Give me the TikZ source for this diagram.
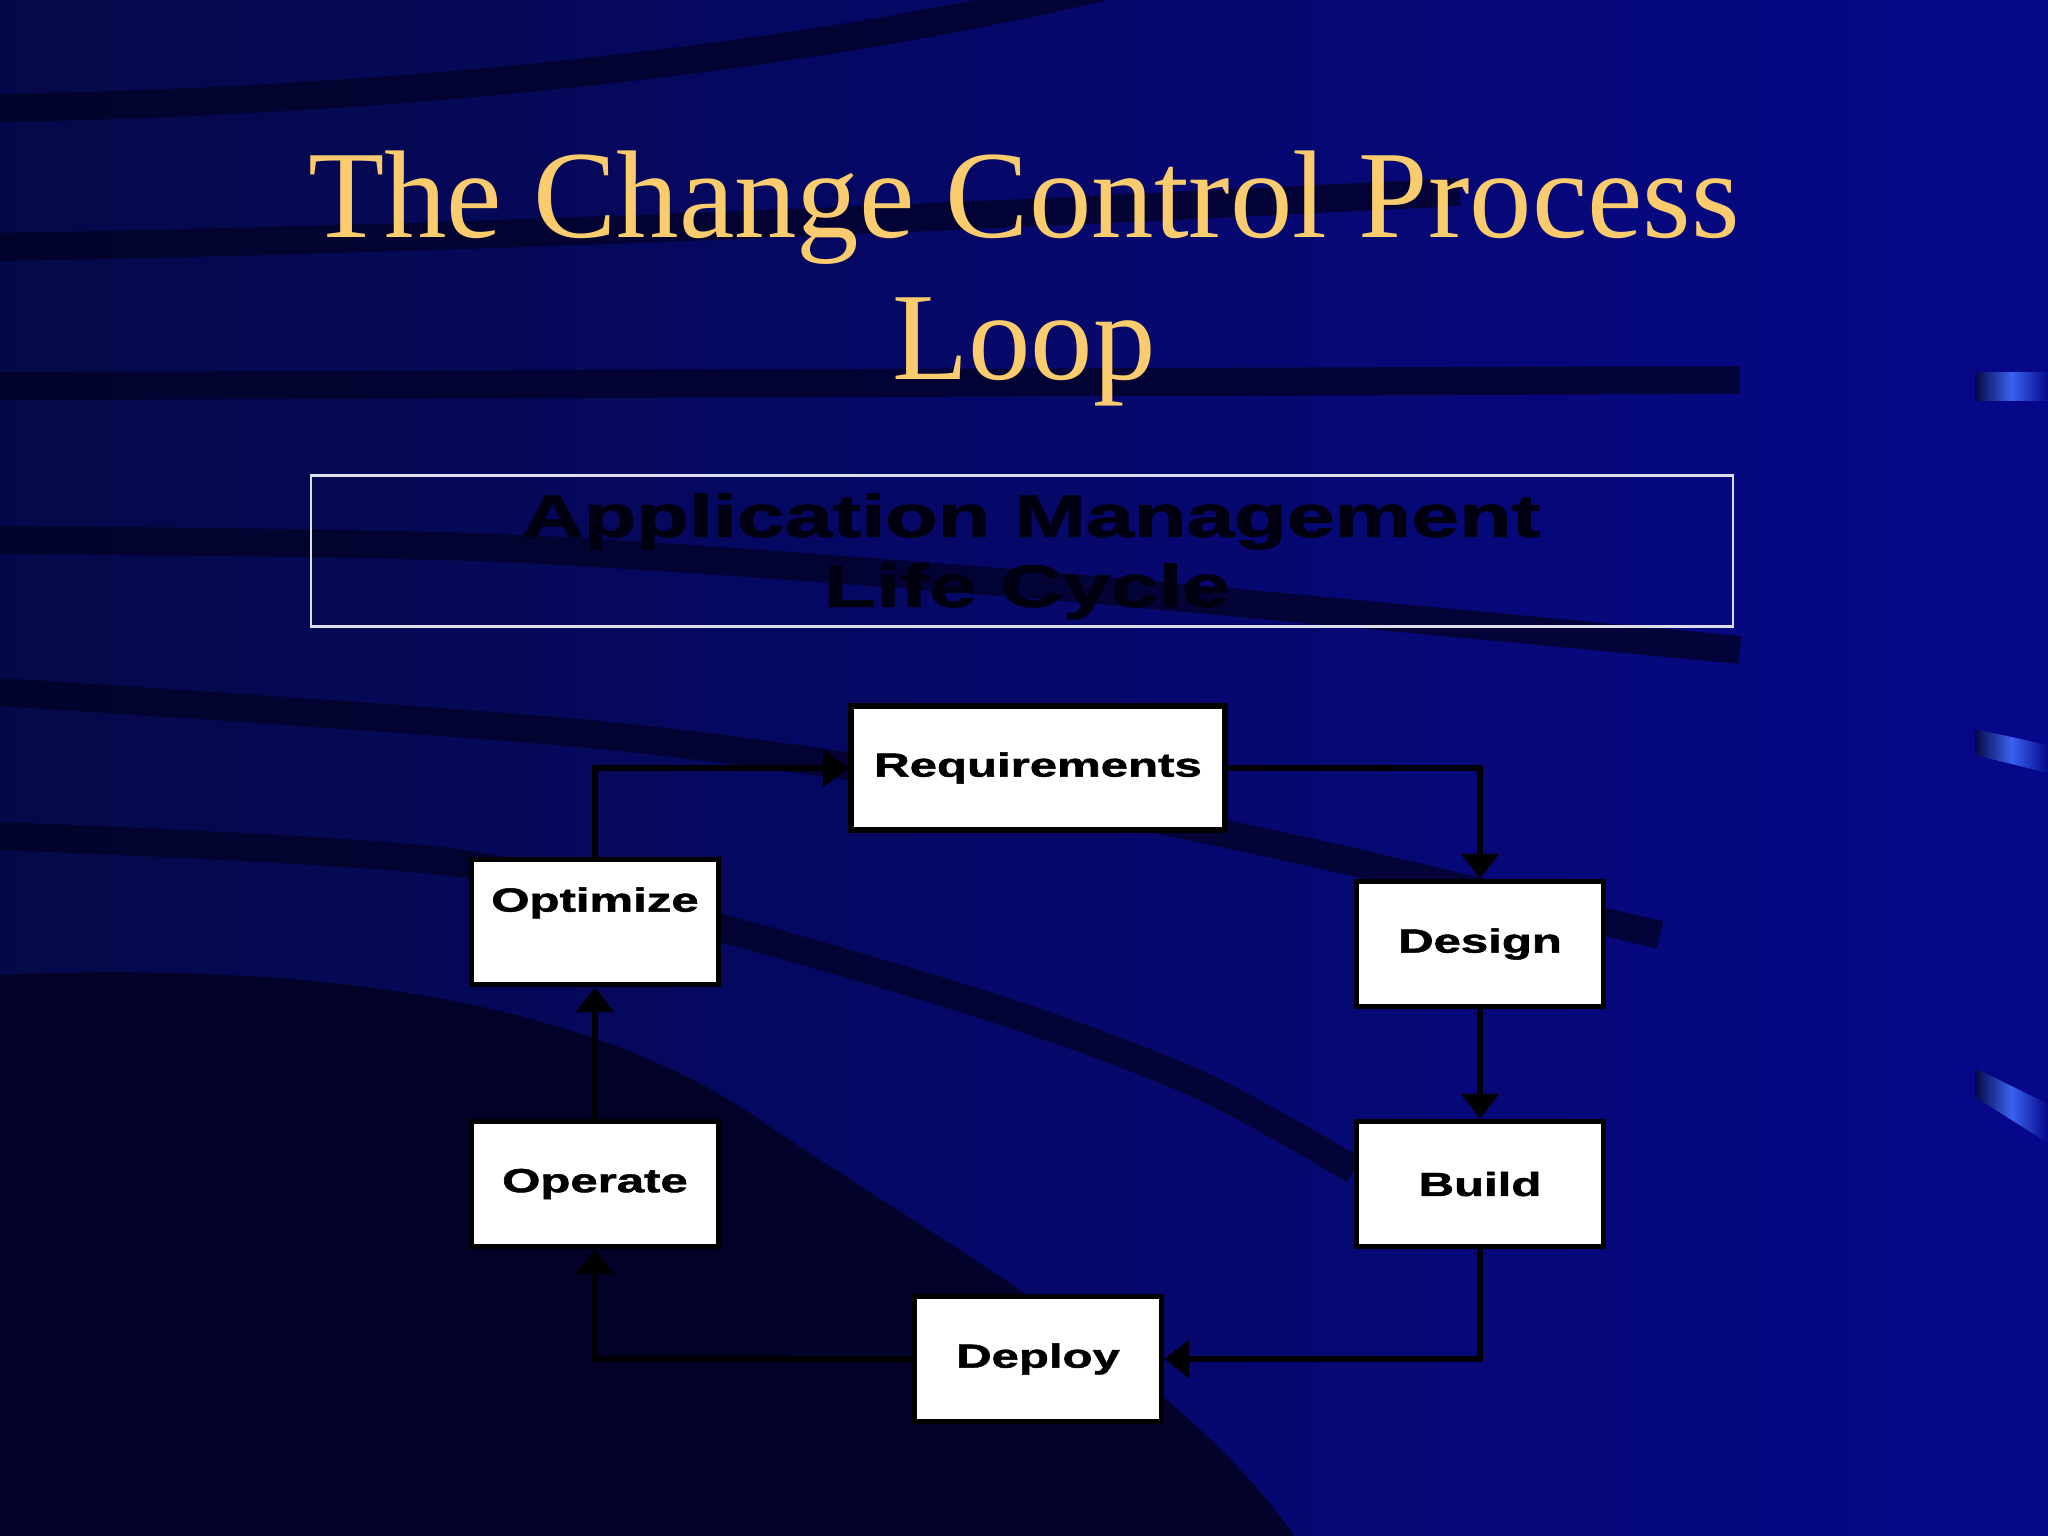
\documentclass[tikz,border=0pt]{standalone}
\usepackage{fontspec}
\setmainfont{Liberation Serif}
\newfontfamily\arialfont{Liberation Sans Bold}[FakeBold=1.3]
\usetikzlibrary{arrows.meta, calc, positioning}
\definecolor{slidebgl}{RGB}{5,8,72}
\definecolor{slidebgr}{RGB}{6,8,138}
\definecolor{swoosh}{RGB}{2,2,36}
\definecolor{titlegold}{RGB}{250,204,110}
\definecolor{tabblue}{RGB}{58,98,240}
\definecolor{cycletext}{RGB}{0,0,16}
\newcommand{\boxlbl}[1]{\scalebox{1.47}[1]{#1}}
\newcommand{\cyclbl}[1]{\scalebox{1.44}[1]{#1}}

\begin{document}
\begin{tikzpicture}[x=0.01cm,y=-0.01cm,>={Triangle[length=0.25cm,width=0.37cm]},
  procbox/.style={draw=black,line width=1.5pt,fill=white,minimum width=2.47cm,
    minimum height=1.25cm,inner sep=0pt,font=\arialfont\fontsize{9.5}{11}\selectfont},
  flow/.style={->,line width=1.7pt,black},
  band/.style={swoosh,opacity=0.75,line width=0.28cm},
  tab/.style={left color=slidebgl,right color=slidebgr,middle color=tabblue}]
\useasboundingbox (0,0) rectangle (2048,1536);
\shade[left color=slidebgl,right color=slidebgr] (0,0) rectangle (2048,1536);
\begin{scope}
\clip (0,0) rectangle (2048,1536);
\draw[band] (0,108) .. controls (450,100) and (850,50) .. (1130,-20);
\draw[band] (0,247) .. controls (500,238) and (1000,215) .. (1460,192);
\draw[band] (0,386) -- (1740,380);
\draw[band] plot[smooth] coordinates {(0,540) (500,548) (1000,582) (1400,618) (1740,650)};
\draw[band] plot[smooth] coordinates {(0,692) (600,735) (1000,790) (1300,850) (1660,935)};
\draw[band] plot[smooth] coordinates {(0,836) (450,862) (721,928) (1000,1010) (1200,1085) (1354,1170)};
\fill[swoosh,opacity=0.9] (0,975) .. controls (350,960) and (600,1010) .. (760,1120)
  .. controls (950,1250) and (1200,1380) .. (1310,1560) -- (0,1560) -- cycle;
\end{scope}
\shade[tab] (1975,372) rectangle (2048,400);
\shade[tab] (1975,729) -- (2048,745) -- (2048,773) -- (1975,755) -- cycle;
\shade[tab] (1975,1068) -- (2048,1104) -- (2048,1143) -- (1975,1097) -- cycle;

\node[anchor=base,text=titlegold,font=\fontsize{35.5}{40}\selectfont] at (1024,237) (ttl) {The Change Control Process};
\node[anchor=base,text=titlegold,font=\fontsize{35.5}{40}\selectfont] at (1024,379) (loop) {Loop};
\node[draw={rgb,255:red,220;green,220;blue,235},line width=0.6pt,minimum width=14.21cm,minimum height=1.51cm,
  inner ysep=0pt,align=center,text=cycletext,font=\arialfont\fontsize{17}{19.9}\selectfont] at (1022,551) (amlc)
  {\rule{0pt}{0.54cm}\hspace*{0.18cm}\cyclbl{Application Management}\\\hspace*{0.1cm}\cyclbl{Life Cycle}};

\node[procbox,minimum width=3.74cm,minimum height=1.24cm] at (1038,768) (req) {\boxlbl{Requirements}};
\node[procbox,text depth=0.45cm] at (595,922) (opt) {\boxlbl{Optimize}};
\node[procbox] at (1480,944) (des) {\boxlbl{Design}};
\node[procbox] at (595,1184) (ope) {\boxlbl{Operate}};
\node[procbox] at (1480,1184) (bld) {\boxlbl{Build}};
\node[procbox] at (1038,1359) (dep) {\boxlbl{Deploy}};

\draw[flow] (opt.north) |- (req.west);
\draw[flow] (req.east) -| (des.north);
\draw[flow] (des) -- (bld);
\draw[flow] (bld.south) |- (dep.east);
\draw[flow] (dep.west) -| (ope.south);
\draw[flow] (ope) -- (opt);
\end{tikzpicture}
\end{document}
